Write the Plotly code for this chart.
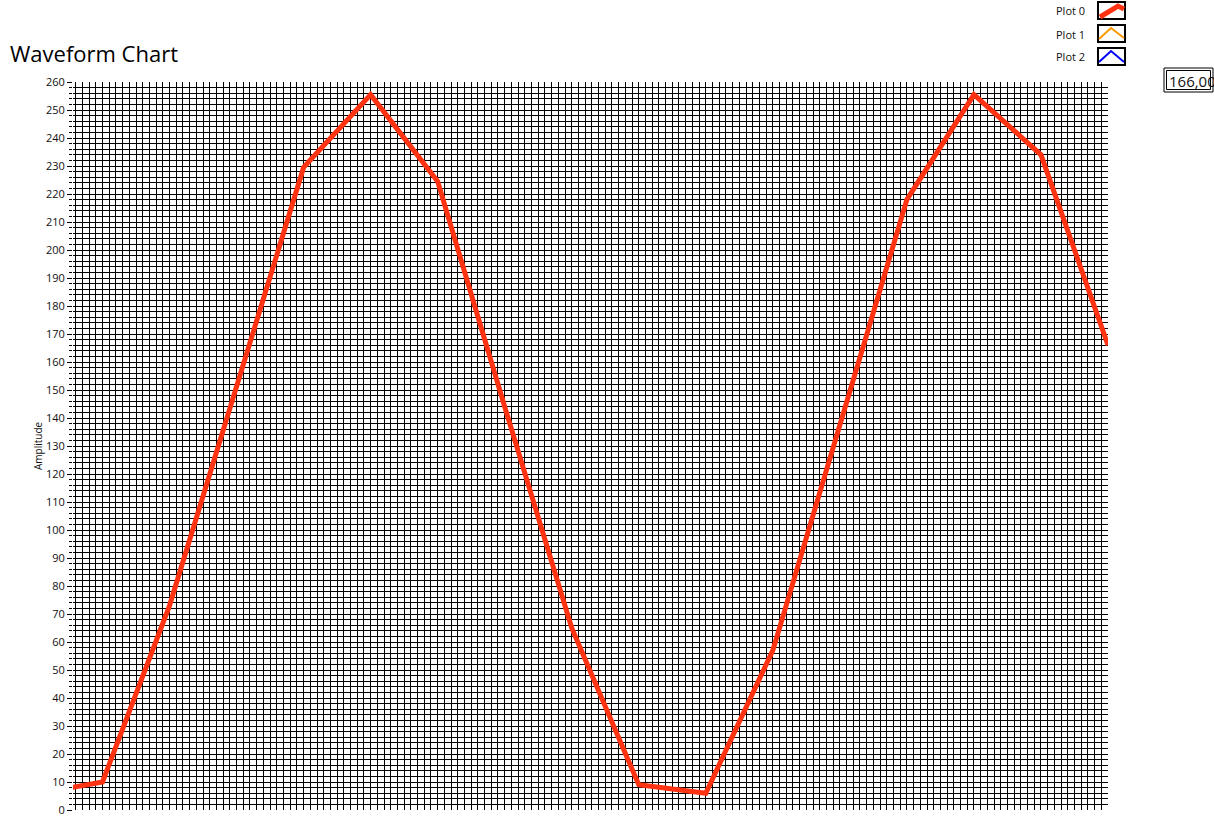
import plotly.graph_objects as go

# ---- data ----
sample_index = list(range(17))
plot0_values = [5.7, 10, 73, 151, 229.5, 255.5, 224.5, 144, 65, 9, 6, 57, 138, 218, 255.5, 234, 166]
legend_names = ["Plot 0", "Plot 1", "Plot 2"]
legend_colors = ["#FF3311", "#FF9900", "#0000FF"]
y_ticks = list(range(0, 261, 10))
y_grid = list(range(2, 260, 2))

W, H = 1214, 816
L, R, T, B = 73, 1214 - 1108, 82, 816 - 810
PW, PH = W - L - R, H - T - B


def px(x):
    return (x - L) / PW


def py(y):
    return (H - B - y) / PH


fig = go.Figure()
fig.add_trace(go.Scatter(
    x=sample_index, y=plot0_values, mode="lines", name=legend_names[0],
    line=dict(color=legend_colors[0], width=5), showlegend=False,
))
for nm, col in zip(legend_names[1:], legend_colors[1:]):
    fig.add_trace(go.Scatter(x=[], y=[], mode="lines", name=nm,
                             line=dict(color=col, width=2), showlegend=False))

shapes = []
annotations = []
# legend (text left, icon box right)
icon_paths = [
    [(1100, 17), (1118, 6), (1124, 9)],
    [(1099, 39), (1111, 28), (1124, 38)],
    [(1099, 62), (1111, 51), (1124, 62)],
]
icon_widths = [5, 2, 2]
for i, nm in enumerate(legend_names):
    cy = 11 + 23 * i
    annotations.append(dict(text=nm, x=px(1087), y=py(cy), xref="paper", yref="paper",
                            xanchor="right", yanchor="middle", showarrow=False,
                            font=dict(size=11, color="#111111")))
    shapes.append(dict(type="rect", xref="paper", yref="paper",
                       x0=px(1098), x1=px(1125), y0=py(cy - 9), y1=py(cy + 8),
                       line=dict(color="black", width=2), fillcolor="white"))
    pts = icon_paths[i]
    path = "M " + " L ".join(f"{px(a)},{py(b)}" for a, b in pts)
    shapes.append(dict(type="path", xref="paper", yref="paper", path=path,
                       line=dict(color=legend_colors[i], width=icon_widths[i])))

# digital indicator
shapes.append(dict(type="rect", xref="paper", yref="paper",
                   x0=px(1164), x1=px(1213), y0=py(68), y1=py(92),
                   line=dict(color="black", width=1), fillcolor="white"))
shapes.append(dict(type="rect", xref="paper", yref="paper",
                   x0=px(1166.5), x1=px(1210.5), y0=py(70.5), y1=py(89.5),
                   line=dict(color="black", width=1)))
annotations.append(dict(text=f"{plot0_values[-1]:.2f}".replace(".", ","),
                        x=px(1167), y=py(80.5), xref="paper", yref="paper",
                        xanchor="left", yanchor="middle", showarrow=False,
                        font=dict(size=15, color="#111111")))
# y title
annotations.append(dict(text="Amplitude", x=px(38), y=py(446), xref="paper", yref="paper",
                        textangle=-90, showarrow=False, xanchor="center", yanchor="middle",
                        font=dict(size=10, color="#111111")))

fig.update_layout(
    width=W, height=H,
    margin=dict(l=L, r=R, t=T, b=B, autoexpand=False),
    paper_bgcolor="white", plot_bgcolor="white",
    font=dict(family="Open Sans", color="#111111"),
    title=dict(text="Waveform Chart", x=10 / W, xanchor="left", y=1 - 54 / H, yanchor="middle",
               font=dict(size=22, color="black")),
    shapes=shapes, annotations=annotations,
    showlegend=False,
)
fig.update_xaxes(
    range=[0.56, 16.0], tick0=0, dtick=0.1, showticklabels=False, ticks="",
    showgrid=True, gridcolor="black", gridwidth=1, zeroline=False, showline=False,
)
fig.update_yaxes(
    range=[0, 260], tickvals=y_ticks, ticks="outside", ticklen=5, tickcolor="black",
    tickfont=dict(size=11, color="#111111"), ticklabeloverflow="allow",
    showgrid=False, zeroline=False, showline=False,
    minor=dict(tickvals=y_grid, ticks="outside", ticklen=3, tickcolor="black",
               showgrid=True, gridcolor="black", gridwidth=1),
)
fig.write_html("out.html", config={"displayModeBar": False},
               post_script="document.body.style.margin='0';document.body.style.overflow='hidden';")
